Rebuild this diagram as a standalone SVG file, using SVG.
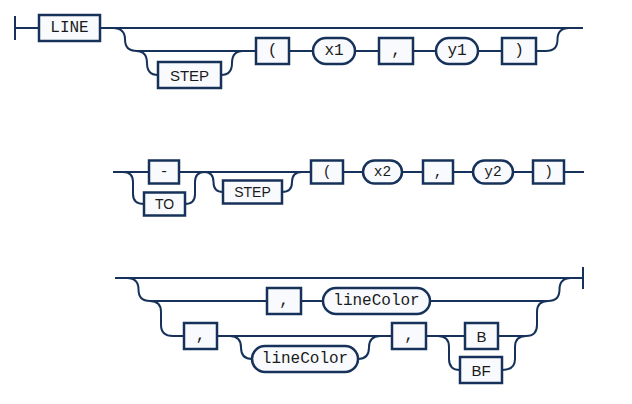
<svg xmlns="http://www.w3.org/2000/svg" width="632" height="404" viewBox="0 0 632 404">
<style>
.ln{fill:none;stroke:#17325a;stroke-width:2}
.bx{fill:#f8fafd;stroke:#17325a;stroke-width:2.5}
.m{font-family:"Liberation Mono",monospace;font-size:16px;fill:#1a1a1a;text-anchor:middle;dominant-baseline:central}
.s{font-family:"Liberation Sans",Arial,sans-serif;font-size:15px;fill:#1a1a1a;text-anchor:middle;dominant-baseline:central}
.m2{font-family:"Liberation Mono",monospace;font-size:14.5px;fill:#1a1a1a;text-anchor:middle;dominant-baseline:central}
.s2{font-family:"Liberation Sans",Arial,sans-serif;font-size:14px;fill:#1a1a1a;text-anchor:middle;dominant-baseline:central}
</style>
<rect width="632" height="404" fill="#ffffff"/>
<g id="connectors">
<!-- row 1 -->
<path class="ln" d="M15 16V40M15 28H39M100 28H583"/>
<path class="ln" d="M113 28q12 0 12 11.5q0 11.5 12 11.5H256"/>
<path class="ln" d="M136 51q11 0 11 12q0 12 11 12"/>
<path class="ln" d="M221 75q11 0 11 -12q0 -12 11 -12"/>
<path class="ln" d="M289 51H313M355 51H379M413 51H436M478 51H502M536 51H546q11.5 0 11.5 -11.5q0 -11.5 11.5 -11.5"/>
<!-- row 2 -->
<path class="ln" d="M113 172H149M179 172H311"/>
<path class="ln" d="M123 172q10 0 10 10v12q0 10 11 10"/>
<path class="ln" d="M185 204q10 0 10 -10v-12q0 -10 10 -10"/>
<path class="ln" d="M204 172q9.5 0 9.5 10q0 10 9.5 10"/>
<path class="ln" d="M282 192q10 0 10 -10q0 -10 10 -10"/>
<path class="ln" d="M343 172H363M402 172H423M453 172H473M513 172H533M564 172H584"/>
<!-- row 3 -->
<path class="ln" d="M115 278H583M583 267V289"/>
<path class="ln" d="M127 278q11.5 0 11.5 11.5q0 11.5 11.5 11.5H267M301 301H323M430 301H548q11.5 0 11.5 -11.5q0 -11.5 11.5 -11.5"/>
<path class="ln" d="M150 301q11 0 11 11v13q0 11 12 11H184"/>
<path class="ln" d="M217 336H392M426 336H465M498 336H526q11 0 11 -11v-13q0 -11 11 -11"/>
<path class="ln" d="M230 336q11 0 11 11.5q0 11.5 11 11.5"/>
<path class="ln" d="M358 359q11 0 11 -11.5q0 -11.5 11 -11.5"/>
<path class="ln" d="M438 336q11 0 11 11v12q0 11 11 11"/>
<path class="ln" d="M502 370q13 0 13 -11v-12q0 -11 11 -11"/>
</g>
<g id="n_LINE"><rect class="bx" x="39" y="15" width="61" height="26"/><text class="m" x="69.5" y="28">LINE</text></g>
<g id="n_STEP1"><rect class="bx" x="158" y="62" width="63" height="26"/><text class="s" x="189.5" y="75">STEP</text></g>
<g id="n_lp1"><rect class="bx" x="256" y="38" width="33" height="26"/><text class="m" x="272.5" y="51">(</text></g>
<g id="n_x1"><rect class="bx" x="313" y="38" width="42" height="26" rx="13"/><text class="m" x="334" y="51">x1</text></g>
<g id="n_c1"><rect class="bx" x="379" y="38" width="34" height="26"/><text class="m" x="396" y="51">,</text></g>
<g id="n_y1"><rect class="bx" x="436" y="38" width="42" height="26" rx="13"/><text class="m" x="457" y="51">y1</text></g>
<g id="n_rp1"><rect class="bx" x="502" y="38" width="34" height="26"/><text class="m" x="519" y="51">)</text></g>

<g id="n_dash"><rect class="bx" x="149" y="160.5" width="30" height="23"/><text class="m2" x="164" y="172">-</text></g>
<g id="n_TO"><rect class="bx" x="144" y="192.5" width="41" height="23"/><text class="s2" x="164.5" y="204">TO</text></g>
<g id="n_STEP2"><rect class="bx" x="223" y="180.5" width="59" height="23"/><text class="s2" x="252.5" y="192">STEP</text></g>
<g id="n_lp2"><rect class="bx" x="311" y="160.5" width="32" height="23"/><text class="m2" x="327" y="172">(</text></g>
<g id="n_x2"><rect class="bx" x="363" y="160.5" width="39" height="23" rx="11.5"/><text class="m2" x="382.5" y="172">x2</text></g>
<g id="n_c2"><rect class="bx" x="423" y="160.5" width="30" height="23"/><text class="m2" x="438" y="172">,</text></g>
<g id="n_y2"><rect class="bx" x="473" y="160.5" width="40" height="23" rx="11.5"/><text class="m2" x="493" y="172">y2</text></g>
<g id="n_rp2"><rect class="bx" x="533" y="160.5" width="31" height="23"/><text class="m2" x="548.5" y="172">)</text></g>

<g id="n_c3"><rect class="bx" x="267" y="288" width="34" height="26"/><text class="m" x="284" y="301">,</text></g>
<g id="n_lineColor1"><rect class="bx" x="323" y="288" width="107" height="26" rx="13"/><text class="m" x="376.5" y="301">lineColor</text></g>
<g id="n_c4"><rect class="bx" x="184" y="323" width="33" height="26"/><text class="m" x="200.5" y="336">,</text></g>
<g id="n_lineColor2"><rect class="bx" x="252" y="346" width="106" height="26" rx="13"/><text class="m" x="305" y="359">lineColor</text></g>
<g id="n_c5"><rect class="bx" x="392" y="323" width="34" height="26"/><text class="m" x="409" y="336">,</text></g>
<g id="n_B"><rect class="bx" x="465" y="323" width="33" height="26"/><text class="s" x="481.5" y="336">B</text></g>
<g id="n_BF"><rect class="bx" x="460" y="357" width="42" height="26"/><text class="s" x="481" y="370">BF</text></g>
</svg>
